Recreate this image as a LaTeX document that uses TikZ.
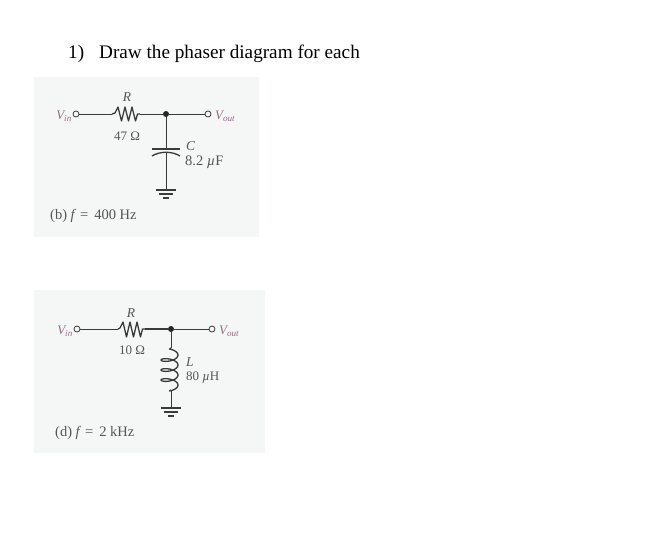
\documentclass[tikz,border=0pt]{standalone}
\usepackage{fontspec}
\setmainfont{Liberation Serif}
\definecolor{panelbg}{HTML}{F5F6F6}
\definecolor{vlabel}{HTML}{9A6A85}
\definecolor{inkc}{HTML}{3A3A3A}
\definecolor{lab}{HTML}{555555}
\tikzset{
  panel/.style={fill=panelbg,draw=none},
  wire/.style={draw=inkc,line width=1pt},
  heavy/.style={draw=inkc,line width=1.3pt},
  term/.style={circle,draw=inkc,fill=panelbg,line width=0.8pt,inner sep=0pt,minimum size=6pt},
  dot/.style={circle,fill=black!85,inner sep=0pt,minimum size=6pt},
  vtxt/.style={text=vlabel,font=\fontsize{13}{14}\selectfont\itshape,inner sep=0pt},
  ctxt/.style={text=lab,font=\fontsize{13}{15}\selectfont,inner sep=0pt},
  btxt/.style={text=lab,font=\fontsize{14.5}{16}\selectfont,inner sep=0pt},
  ilab/.style={text=lab,font=\fontsize{13.5}{15}\selectfont\itshape,inner sep=0pt},
  anch/.style={inner sep=0pt,minimum size=0pt}
}
\begin{document}
\begin{tikzpicture}[x=1pt,y=-1pt]
\useasboundingbox (0,0) rectangle (648,547);
\fill[white] (0,0) rectangle (648,547);
\node[anchor=base west,inner sep=0pt,font=\fontsize{19.2}{22}\selectfont] (title) at (68,58) {1)\hspace{0.78em}Draw the phaser diagram for each};
\fill[panel] (34,77) rectangle (259,237);
\fill[panel] (34,290) rectangle (265,453);

% circuit b
\node[term] (i1) at (76,114) {};
\node[anch] (r1a) at (112,114) {};
\node[anch] (r1b) at (140,114) {};
\node[dot] (j1) at (166,114) {};
\node[term] (o1) at (208,114) {};
\node[anch] (c1a) at (166,149) {};
\node[anch] (c1b) at (166,153) {};
\node[anch] (g1) at (166,190) {};
\draw[wire] (i1) -- (r1a);
\draw[heavy,line join=round] (r1a.center) -- ++(3,-1) -- ++(3,-6) -- ++(3.5,14) -- ++(3.5,-14) -- ++(3.5,14) -- ++(3.5,-14) -- ++(3.5,14) -- ++(2,-7) -- (r1b.center);
\draw[wire] (r1b) -- (j1) -- (o1);
\draw[wire] (j1) -- (c1a.center);
\draw[wire] (c1b.center) -- (g1.center);
\draw[heavy] (152,149) -- (180,149);
\draw[heavy] (152,156) .. controls (160,151) and (172,151) .. (180,156);
\draw[heavy] (156,190) -- (176,190) (159,194) -- (173,194) (163,198) -- (169,198);
\node[vtxt,anchor=east] (vin1) at (72,116) {V\textsubscript{in}};
\node[vtxt,anchor=west] (vout1) at (215,116) {V\textsubscript{out}};
\node[ilab] (rl1) at (127,97) {R};
\node[ctxt] (rv1) at (127,136) {47 Ω};
\node[ilab,anchor=west] (cl1) at (186,146) {C};
\node[btxt,anchor=west] (cv1) at (185,162) {8.2 \textit{µ}F};
\node[btxt,anchor=west] (f1) at (50,216) {(b) \textit{f} = \,400 Hz};

% circuit d
\node[term] (i2) at (77,329) {};
\node[anch] (r2a) at (118,329) {};
\node[anch] (r2b) at (145,329) {};
\node[dot] (j2) at (171,329) {};
\node[term] (o2) at (212,329) {};
\node[anch] (l2a) at (171,348) {};
\node[anch] (l2b) at (171,390) {};
\node[anch] (g2) at (171,408) {};
\draw[wire] (i2) -- (r2a);
\draw[heavy,line join=round] (r2a.center) -- ++(2,-1) -- ++(3,-6) -- ++(3.5,15) -- ++(3.5,-15) -- ++(3.5,15) -- ++(3.5,-15) -- ++(3.5,15) -- ++(2,-8) -- (r2b.center);
\draw[heavy] (r2b) -- (j2);
\draw[wire] (j2) -- (o2);
\draw[wire] (j2) -- (l2a.center);
\draw[heavy,line join=round] (l2a.center) -- plot[smooth,domain=-90:1170,samples=85] ({169.5+8.5*cos(\x)},{355+0.0278*\x+3.5*sin(\x)}) -- (l2b.center);
\draw[wire] (l2b.center) -- (g2.center);
\draw[heavy] (161,408) -- (181,408) (164,412) -- (178,412) (168,416) -- (174,416);
\node[vtxt,anchor=east] (vin2) at (73,331) {V\textsubscript{in}};
\node[vtxt,anchor=west] (vout2) at (219,331) {V\textsubscript{out}};
\node[ilab] (rl2) at (131,313) {R};
\node[ctxt] (rv2) at (132,350) {10 Ω};
\node[ilab,anchor=west] (ll2) at (186,362) {L};
\node[ctxt,anchor=west] (lv2) at (186,378) {80 \textit{µ}H};
\node[btxt,anchor=west] (f2) at (55,433) {(d) \textit{f} = \,2 kHz};
\end{tikzpicture}
\end{document}
